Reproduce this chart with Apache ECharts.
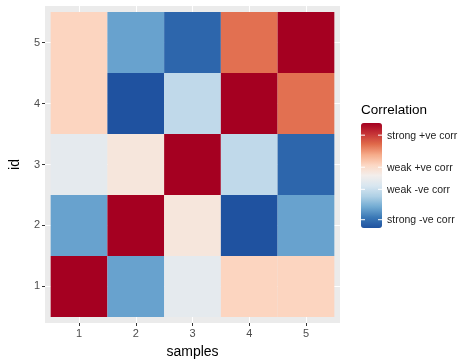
<!DOCTYPE html>
<html><head><meta charset="utf-8">
<script src="https://cdn.jsdelivr.net/npm/echarts@6/dist/echarts.min.js"></script>
<style>html,body{margin:0;padding:0;background:#fff}#c{width:474px;height:364px}</style>
</head><body><div id="c"></div>
<script>
const samples = [1, 2, 3, 4, 5];
const ids = [1, 2, 3, 4, 5];
// correlation rows by id (1..5), columns by sample (1..5)
const row1 = [1.00, -0.55, -0.05, 0.25, 0.25];
const row2 = [-0.55, 1.00, 0.12, -0.90, -0.55];
const row3 = [-0.05, 0.12, 1.00, -0.25, -0.80];
const row4 = [0.25, -0.90, -0.25, 1.00, 0.60];
const row5 = [0.25, -0.55, -0.80, 0.60, 1.00];
const rows = [row1, row2, row3, row4, row5];
const legendBreaks = [0.78, 0.2, -0.2, -0.75];
const legendLabels = ['strong +ve corr', 'weak +ve corr', 'weak -ve corr', 'strong -ve corr'];
const vMin = -0.9, vMax = 1.0;
const palette = ['#1f52a0','#3a78b6','#71aad2','#aed0e5','#d8e6f0','#f3eeeb','#fcd7c3','#f5aa88','#e0694a','#c43236','#a50021'];

const data = [];
ids.forEach((id, i) => samples.forEach((s, j) => data.push([s, id, rows[i][j]])));

const barLeft = 361, barTop = 123, barW = 21, barH = 105;
const graphics = [];
legendBreaks.forEach((v, k) => {
  const y = barTop + (vMax - v) / (vMax - vMin) * barH;
  graphics.push({type:'line', shape:{x1:barLeft, y1:y, x2:barLeft+4, y2:y}, style:{stroke:'#fff', lineWidth:1}, z:100});
  graphics.push({type:'line', shape:{x1:barLeft+barW-4, y1:y, x2:barLeft+barW, y2:y}, style:{stroke:'#fff', lineWidth:1}, z:100});
  graphics.push({type:'text', left: barLeft + barW + 5, top: y - 5, style:{text: legendLabels[k], fill:'#222', font:'10.5px "Liberation Sans", Arial, sans-serif'}, z:100});
});
graphics.push({type:'text', left: barLeft, top: 103, style:{text:'Correlation', fill:'#000', font:'13.5px "Liberation Sans", Arial, sans-serif'}});

const ticks = [1,2,3,4,5];
function axis(name, gap, rot) {
  return {
    type:'value', min:0.4, max:5.6,
    name, nameLocation:'middle', nameGap:gap, nameRotate:rot,
    nameTextStyle:{color:'#000', fontSize:14, fontFamily:'Liberation Sans, Arial, sans-serif'},
    axisLine:{show:false},
    axisTick:{show:true, length:3, lineStyle:{color:'#333'}, customValues:ticks},
    axisLabel:{color:'#4d4d4d', fontSize:11, margin:5, customValues:ticks, fontFamily:'Liberation Sans, Arial, sans-serif'},
    splitLine:{show:true, lineStyle:{color:'#fff', width:1}},
    minorTick:{show:false}
  };
}
const chart = echarts.init(document.getElementById('c'), null, {renderer:'canvas'});
chart.setOption({
  backgroundColor:'#fff',
  animation:false,
  grid:{left:35, right:134, top:6, bottom:40, show:true, backgroundColor:'#ebebeb', borderWidth:0},
  xAxis: axis('samples', 22, 0),
  yAxis: axis('id', 23, 90),
  visualMap:{
    type:'continuous', min:vMin, max:vMax, dimension:2, seriesIndex:0,
    left:barLeft, top:barTop, itemWidth:barW, itemHeight:barH, padding:0,
    text:['',''], calculable:false, hoverLink:false, showLabel:false,
    inRange:{color:palette}
  },
  graphic: graphics,
  series:[{
    type:'custom',
    data,
    encode:{x:0, y:1},
    renderItem(params, api){
      const x = api.value(0), y = api.value(1);
      const p1 = api.coord([x-0.5, y+0.5]);
      const p2 = api.coord([x+0.5, y-0.5]);
      return {type:'rect', shape:{x:p1[0], y:p1[1], width:p2[0]-p1[0], height:p2[1]-p1[1]}, style:{fill:api.visual('color')}};
    }
  }]
});
</script></body></html>
